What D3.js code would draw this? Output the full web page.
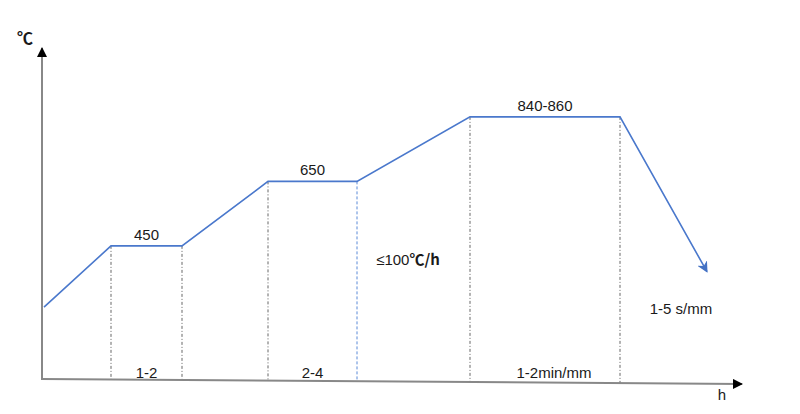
<!DOCTYPE html>
<html><head><meta charset="utf-8">
<script src="https://cdn.jsdelivr.net/npm/d3@7"></script>
<style>body{margin:0;background:#fff}svg{display:block}text{font-family:"Liberation Sans",Arial,sans-serif;fill:#1a1a1a}</style>
</head><body><svg id="c" width="800" height="414"></svg>
<script>
// schematic heat-treatment curve: time (arbitrary h units) vs temperature (℃)
const times = [0.2, 6.9, 14.0, 22.6, 31.5, 42.8, 57.8, 66.5];
const temps = [260, 450, 450, 650, 650, 850, 850, 370];
const guideIdx = [1, 2, 3, 4, 5, 6];          // points with vertical guides
const tempLabels = [{i:1, t:"450"}, {i:3, t:"650"}, {i:5, t:"840-860"}];
const spanLabels = [{a:1, b:2, t:"1-2"}, {a:3, b:4, t:"2-4"}, {a:5, b:6, t:"1-2min/mm"}];
const rateLabels = [{t:["≤100", "℃/h"], x:36.6, y:390}, {t:["1-5 s/mm"], x:63.9, y:240}];
const axisLabels = {y:"℃", x:"h"};

const svg = d3.select("#c");
const x = d3.scaleLinear().domain([0, 70]).range([42, 742]);
const y = d3.scaleLinear().domain([0, 1000]).range([391, 68.5]);
const axisY = t => 379 + (x(t) - 42) * 5 / 700;   // slightly tilted baseline

const defs = svg.append("defs");
defs.append("marker").attr("id","ab").attr("viewBox","0 0 10 10").attr("refX",9).attr("refY",5)
  .attr("markerWidth",10).attr("markerHeight",10).attr("markerUnits","userSpaceOnUse").attr("orient","auto")
  .append("path").attr("d","M0,0L10,5L0,10Z").attr("fill","#000");
defs.append("marker").attr("id","al").attr("viewBox","0 0 10 10").attr("refX",9).attr("refY",5)
  .attr("markerWidth",11).attr("markerHeight",11).attr("markerUnits","userSpaceOnUse").attr("orient","auto")
  .append("path").attr("d","M0,0L10,5L0,10L3,5Z").attr("fill","#4472C4");

// guides
guideIdx.forEach(i => {
  const blue = i === 4;
  svg.append("line").attr("x1", x(times[i])).attr("x2", x(times[i]))
    .attr("y1", y(temps[i])).attr("y2", axisY(times[i]))
    .attr("stroke", blue ? "#5b8ad8" : "#666").attr("stroke-width", 1)
    .attr("stroke-dasharray", blue ? "3,2" : "3,2,1,2");
});

// axes
svg.append("line").attr("x1", 42).attr("y1", 380).attr("x2", 42).attr("y2", 48)
  .attr("stroke","#888").attr("stroke-width",2).attr("marker-end","url(#ab)");
svg.append("line").attr("x1", x(0)).attr("y1", axisY(0)).attr("x2", x(70)).attr("y2", axisY(70))
  .attr("stroke","#888").attr("stroke-width",2).attr("marker-end","url(#ab)");

// curve
const line = d3.line().x((d,i) => x(times[i])).y(d => y(d));
svg.append("path").datum(temps).attr("d", line).attr("fill","none")
  .attr("stroke","#4a78cc").attr("stroke-width",1.6).attr("marker-end","url(#al)");

// labels
tempLabels.forEach(l => {
  svg.append("text").attr("x", (x(times[l.i]) + x(times[l.i+1]))/2)
    .attr("y", y(temps[l.i]) - 6).attr("text-anchor","middle").attr("font-size",15).text(l.t);
});
spanLabels.forEach(l => {
  svg.append("text").attr("x", (x(times[l.a]) + x(times[l.b]))/2 + (l.a===5?9:0)).attr("y", 378)
    .attr("text-anchor","middle").attr("font-size",15).text(l.t);
});
rateLabels.forEach(l => {
  const t = svg.append("text").attr("x", x(l.x)).attr("y", y(l.y)).attr("text-anchor","middle").attr("font-size",15);
  l.t.forEach((s, k) => {
    const ts = t.append("tspan").text(s);
    if (k === 1) ts.style("font-family","'Noto Sans CJK SC',sans-serif").attr("font-weight","bold");
  });
});
svg.append("text").attr("x", 25).attr("y", 44).attr("text-anchor","middle").attr("font-size",16).attr("font-weight","bold")
  .style("font-family","'Noto Sans CJK SC',sans-serif").text(axisLabels.y);
svg.append("text").attr("x", 722).attr("y", 400).attr("text-anchor","middle").attr("font-size",15).text(axisLabels.x);
</script></body></html>
